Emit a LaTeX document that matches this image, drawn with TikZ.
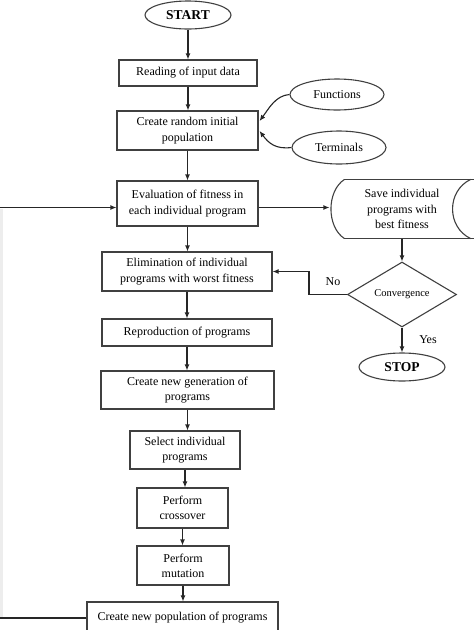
\documentclass[tikz,border=0pt]{standalone}
\usepackage{fontspec}
\setmainfont{Liberation Serif}
\usetikzlibrary{shapes.geometric,arrows.meta,calc}
\begin{document}
\begin{tikzpicture}[x=1pt,y=1pt,
  line width=1.1pt,
  every node/.style={font=\fontsize{12}{15.3}\selectfont},
  proc/.style={draw=black!75, line width=1.1pt, rectangle, align=center, inner sep=0pt},
  term/.style={draw=black!75, line width=1.1pt, ellipse, inner sep=0pt, align=center},
  arr/.style={draw=black!85, line width=1.1pt, -{Latex[length=6pt,width=5pt]}},
  ln/.style={draw=black!75, line width=1.1pt}]
\useasboundingbox (0,0) rectangle (474,-630);
\fill[black!7] (0,-209) rectangle (3,-617);
% terminals
\node[term, minimum width=86pt, minimum height=28pt, font=\fontsize{13.5}{15}\selectfont\bfseries] (start) at (188,-15) {START};
\node[term, minimum width=86pt, minimum height=28pt, font=\fontsize{13.5}{15}\selectfont\bfseries] (stop) at (402,-367) {STOP};
% process boxes
\node[proc, minimum width=138pt, minimum height=26pt] (read) at (188,-73) {Reading of input data};
\node[proc, minimum width=141pt, minimum height=39pt] (create) at (187.5,-130.5) {Create random initial\\population};
\node[proc, minimum width=141pt, minimum height=45pt] (eval) at (187.5,-203.5) {Evaluation of fitness in\\each individual program};
\node[proc, minimum width=170pt, minimum height=39pt] (elim) at (187,-271.5) {Elimination of individual\\programs with worst fitness};
\node[proc, minimum width=170pt, minimum height=27pt] (repro) at (187,-332.5) {Reproduction of programs};
\node[proc, minimum width=173pt, minimum height=38pt] (newgen) at (187.5,-390) {Create new generation of\\programs};
\node[proc, minimum width=110pt, minimum height=38pt] (select) at (185,-450) {Select individual\\programs};
\node[proc, minimum width=91pt, minimum height=40pt] (cross) at (182.5,-508) {Perform\\crossover};
\node[proc, minimum width=92pt, minimum height=39pt] (mut) at (183,-565.5) {Perform\\mutation};
\node[proc, minimum width=191pt, minimum height=32pt] (newpop) at (182.5,-618) {\raisebox{3pt}{Create new population of programs}};
% inputs
\node[term, minimum width=94pt, minimum height=31pt] (func) at (337,-94.5) {Functions};
\node[term, minimum width=94pt, minimum height=33pt] (termn) at (339,-147.5) {Terminals};
% stored data
\node[rectangle, minimum width=144pt, minimum height=58pt, inner sep=0pt, align=center] (save) at (402,-209) {Save individual\\programs with\\best fitness};
\draw[ln] ($(save.north west)+(15,0)$) -- ($(save.north east)+(0,0)$);
\draw[ln] ($(save.south west)+(15,0)$) -- ($(save.south east)+(0,0)$);
\draw[ln] ($(save.north west)+(15,0)$) .. controls ($(save.west)+(-3,18)$) and ($(save.west)+(-3,-18)$) .. ($(save.south west)+(15,0)$);
\draw[ln] ($(save.north east)+(-4,0)$) .. controls ($(save.east)+(-28,18)$) and ($(save.east)+(-28,-18)$) .. ($(save.south east)+(-4,0)$);
% decision
\node[diamond, draw=black!75, line width=1.1pt, minimum width=109pt, minimum height=65pt, inner sep=0pt, font=\fontsize{10.5}{12}\selectfont] (conv) at (402,-294.5) {Convergence};
% main flow
\draw[arr] (start.south) -- (start.south |- read.north);
\draw[arr] (read.south) -- (read.south |- create.north);
\draw[arr] (create.south) -- (create.south |- eval.north);
\draw[arr] (eval.south) -- (eval.south |- elim.north);
\draw[arr] (elim.south) -- (elim.south |- repro.north);
\draw[arr] (repro.south) -- (repro.south |- newgen.north);
\draw[arr] (newgen.south) -- (newgen.south |- select.north);
\draw[arr] (select.south) -- (select.south |- cross.north);
\draw[arr] (cross.south) -- (cross.south |- mut.north);
\draw[arr] (mut.south) -- (mut.south |- newpop.north);
% inputs to create
\coordinate (cf) at ($(create.east)+(1,9.5)$);
\coordinate (ct) at ($(create.east)+(1,-0.5)$);
\draw[arr] (func.west) .. controls ($(func.west)+(-14,-1)$) and ($(cf)+(9,12)$) .. (cf);
\draw[arr] (termn.west) .. controls ($(termn.west)+(-16,-2)$) and ($(ct)+(9,-12)$) .. (ct);
% save
\draw[arr] ([yshift=-4pt]eval.east) -- ([yshift=-4pt]eval.east -| save.west);
\draw[arr] (save.south) -- (conv.north);
% decision outputs
\draw[arr] (conv.west) -- ($(conv.west)+(-38,0)$) |- (elim.east);
\node at (333,-282) {No};
\draw[arr] (conv.south) -- (stop.north);
\node at (428,-340) {Yes};
% feedback
\draw[arr] (newpop.west) -- ($(newpop.west)+(-90,0)$) |- ([yshift=-4pt]eval.west);
\end{tikzpicture}
\end{document}
